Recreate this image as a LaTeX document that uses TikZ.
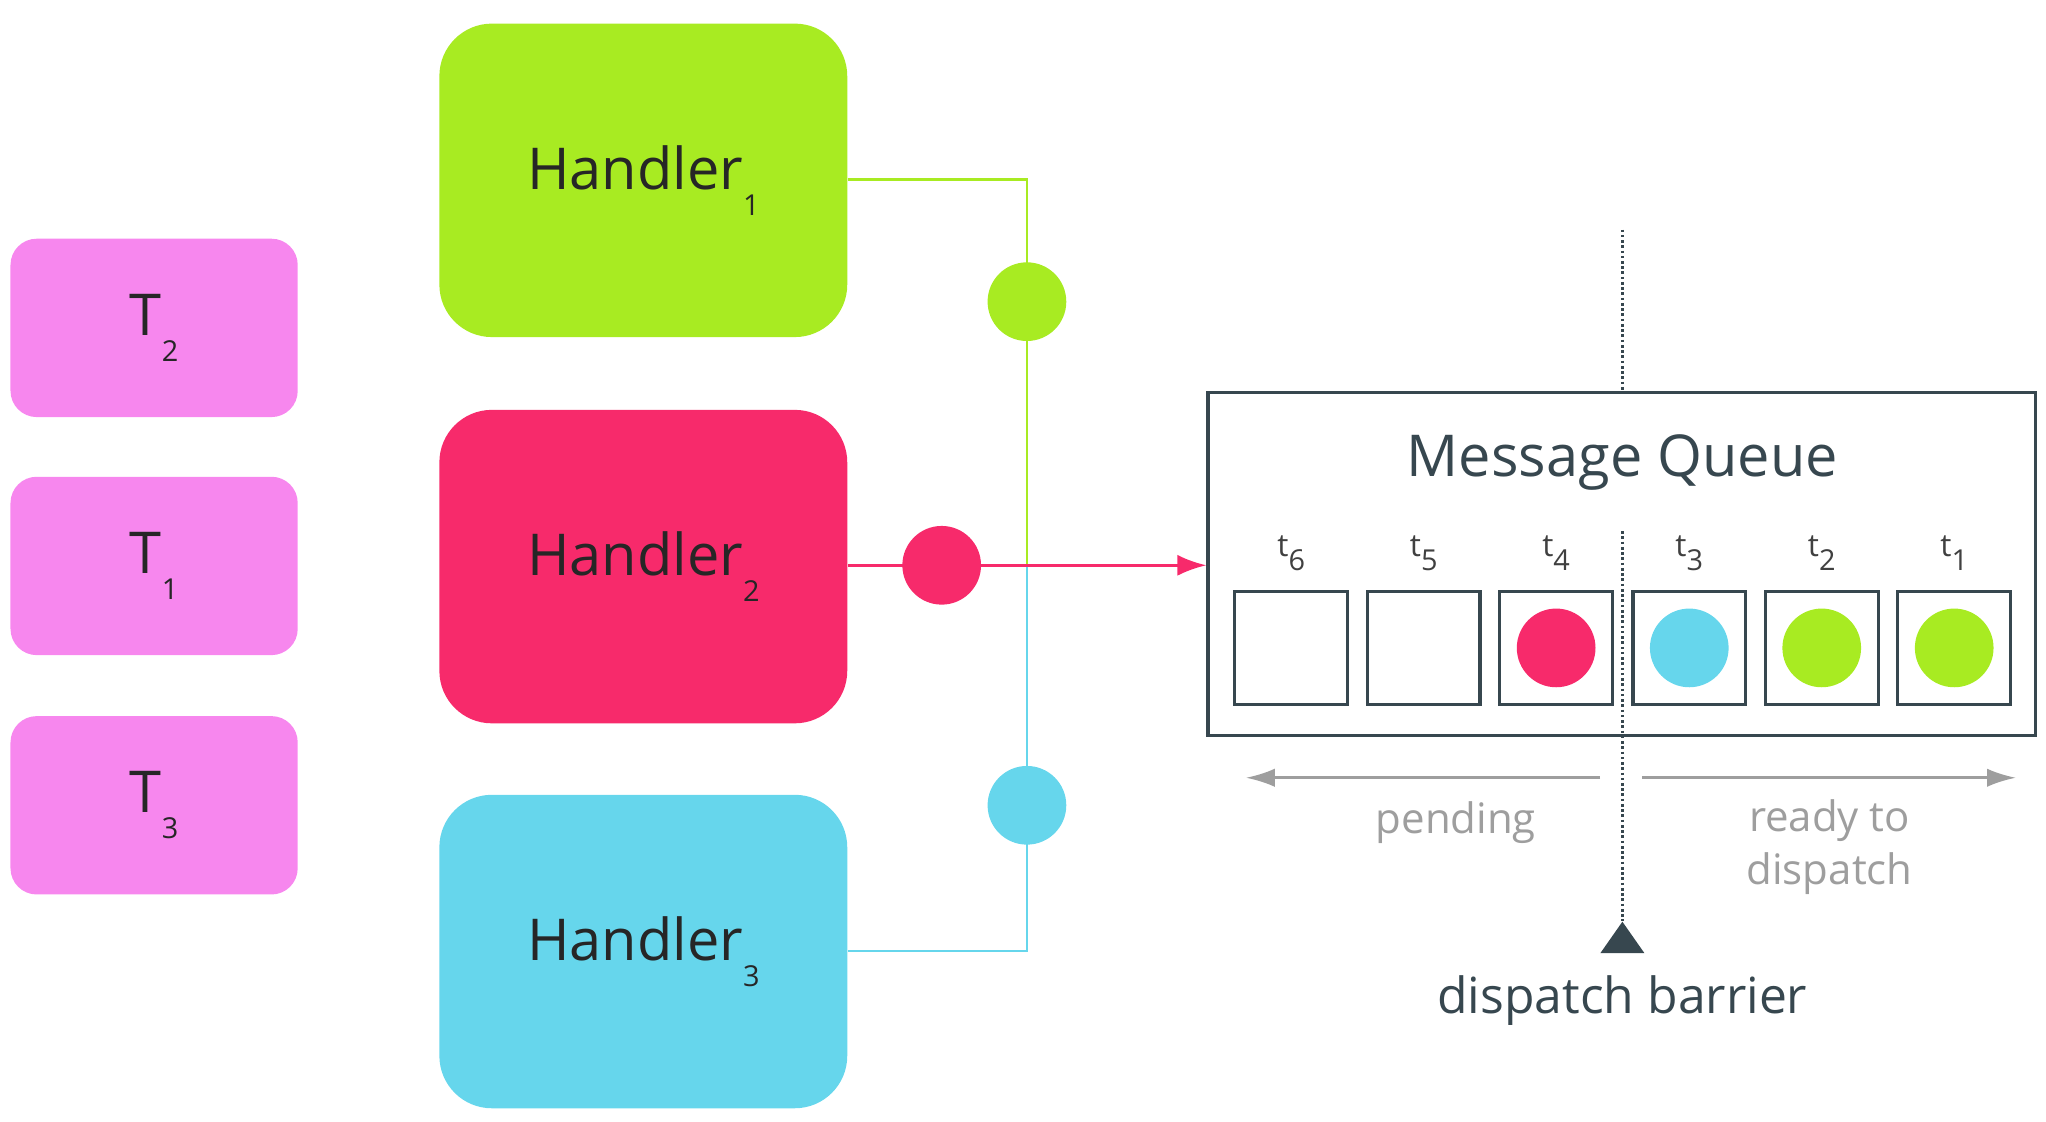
\documentclass[tikz,border=0pt]{standalone}
\usepackage{fontspec}
\setmainfont{Open Sans}
\usetikzlibrary{arrows.meta,shapes.geometric}
\begin{document}
\definecolor{tp}{HTML}{F787EE}
\definecolor{hg}{HTML}{A8EB22}
\definecolor{hr}{HTML}{F72A6B}
\definecolor{hb}{HTML}{66D6EC}
\definecolor{dk}{HTML}{37474F}
\definecolor{gy}{HTML}{9E9E9E}
\newcommand{\sbs}[1]{\raisebox{-0.45em}{\fontsize{22}{22}\selectfont #1}}
\begin{tikzpicture}[x=1pt,y=-1pt,
 tb/.style={fill=tp,rounded corners=20pt,minimum width=219pt,minimum height=136pt,font=\fontsize{44}{44}\selectfont,text=black!85},
 hd/.style={rounded corners=40pt,minimum width=311pt,minimum height=239pt,font=\fontsize{44}{44}\selectfont,text=black!85},
 dot/.style={circle,minimum size=60pt,inner sep=0},
 cell/.style={draw=dk,line width=2.5pt,minimum size=86pt,inner sep=0},
 cd/.style={circle,minimum size=60pt,inner sep=0},
 tl/.style={font=\fontsize{24}{24}\selectfont,text=black!75},
 gl/.style={gy,line width=2pt,-{Latex[length=22pt,width=14pt]}}]
\useasboundingbox (0,0) rectangle (1560,855);
\node[tb] (t2) at (117.5,250) {T\sbs{2}};
\node[tb] (t1) at (117.5,431.5) {T\sbs{1}};
\node[tb] (t3) at (117.5,614) {T\sbs{3}};
\node[hd,fill=hg] (h1) at (490.5,137.5) {Handler\sbs{1}};
\node[hd,fill=hr] (h2) at (490.5,432) {Handler\sbs{2}};
\node[hd,fill=hb] (h3) at (490.5,725.5) {Handler\sbs{3}};
\coordinate (j) at (783,431);
\draw[hg,line width=2pt] (h1.east |- 0,137) -- (783,137) -- (j);
\draw[hb,line width=2pt] (h3.east |- 0,725) -- (783,725) -- (j);
\node[dot,fill=hg] (c1) at (783,230) {};
\node[dot,fill=hb] (c3) at (783,614) {};
\node[draw=dk,line width=2.5pt,minimum width=631pt,minimum height=262pt,inner sep=0] (q) at (1236.5,430) {};
\draw[hr,line width=2pt,-{Latex[length=22pt,width=16pt]}] (h2.east |- 0,431) -- (q.west |- 0,431);
\node[dot,fill=hr] (c2) at (718,431) {};
\node[font=\fontsize{44}{44}\selectfont,text=dk] (mq) at (1237,353) {Message Queue};
\foreach \i/\x/\t in {1/984.5/6,2/1085.5/5,3/1186.5/4,4/1288/3,5/1389/2,6/1490/1}{
 \node[cell] (s\i) at (\x,494) {};
 \node[tl] (l\i) at (\x,422) {t\sbs{\t}};
}
\node[cd,fill=hr] at (s3) {};
\node[cd,fill=hb] at (s4) {};
\node[cd,fill=hg] at (s5) {};
\node[cd,fill=hg] at (s6) {};
\draw[dk,line width=2pt,dotted] (1237,175) -- (q.north -| 1237,0);
\draw[dk,line width=2pt,dotted] (1237,405) -- (1237,702);
\node[fill=dk,isosceles triangle,shape border rotate=90,minimum height=24pt,minimum width=30pt,inner sep=0,isosceles triangle apex angle=70] (tri) at (1237,718) {};
\node[font=\fontsize{38}{38}\selectfont,text=dk] (db) at (1237,763) {dispatch barrier};
\coordinate (pa) at (1220,593); \coordinate (pb) at (950,593);
\coordinate (ra) at (1252,593); \coordinate (rb) at (1537,593);
\draw[gl] (pa) -- (pb);
\draw[gl] (ra) -- (rb);
\node[font=\fontsize{32}{32}\selectfont,text=gy] (pl) at (1110,627) {pending};
\node[font=\fontsize{32}{40}\selectfont,text=gy,align=center] (rl) at (1395,646) {ready to\\dispatch};
\end{tikzpicture}
\end{document}
